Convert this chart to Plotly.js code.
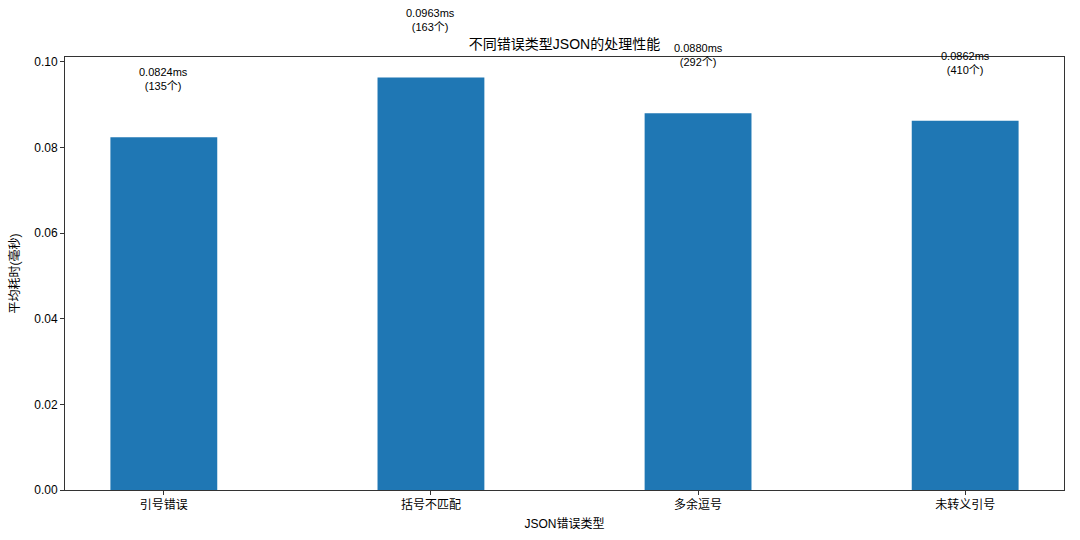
<!DOCTYPE html>
<html>
<head>
<meta charset="utf-8">
<script src="https://cdn.plot.ly/plotly-3.0.1.min.js"></script>
<style>
  html, body { margin: 0; padding: 0; background: #fff; }
  #chart { width: 1080px; height: 540px; }
</style>
</head>
<body>
<div id="chart"></div>
<script>
var categories = ['引号错误', '括号不匹配', '多余逗号', '未转义引号'];
var avgTimes = [0.0824, 0.0963, 0.0880, 0.0862];
var counts = [135, 163, 292, 410];
var yTicks = [0, 0.02, 0.04, 0.06, 0.08, 0.10];

var FONT = 'Liberation Sans, Arial, Noto Sans CJK SC, sans-serif';
var labelOffset = 0.01;
var yMax = Math.max.apply(null, avgTimes) * 1.05;

var xs = categories.map(function (c, i) { return i; });

var bars = {
    type: 'bar',
    x: xs,
    y: avgTimes,
    width: 0.4,
    marker: {color: '#1f77b4', line: {width: 0}},
    hoverinfo: 'skip'
};

// value labels sit above the plot area for the tallest bar, so anchor them
// to the y domain (which is not hidden when off-range)
var annotations = avgTimes.map(function (v, i) {
    return {
        x: i, xref: 'x',
        y: (v + labelOffset) / yMax, yref: 'y domain',
        yanchor: 'bottom', xanchor: 'center',
        text: v.toFixed(4) + 'ms<br>(' + counts[i] + '个)',
        showarrow: false,
        font: {family: FONT, size: 11, color: '#000'}
    };
});

var layout = {
    width: 1080,
    height: 540,
    margin: {l: 65, r: 16, t: 57, b: 50},
    paper_bgcolor: '#fff',
    plot_bgcolor: '#fff',
    showlegend: false,
    font: {family: FONT, size: 12, color: '#000'},
    title: {
        text: '不同错误类型JSON的处理性能',
        font: {family: FONT, size: 14, color: '#000'},
        x: 0.5, xref: 'paper',
        y: 1 - 44 / 540, yref: 'container', yanchor: 'middle'
    },
    annotations: annotations,
    xaxis: {
        range: [-0.37, 3.37],
        tickvals: xs,
        ticktext: categories,
        ticks: 'outside', ticklen: 4, tickcolor: '#333',
        showline: true, mirror: true, linecolor: '#333', linewidth: 1,
        showgrid: false, zeroline: false,
        tickfont: {size: 12},
        title: {text: 'JSON错误类型', font: {size: 12}, standoff: 8}
    },
    yaxis: {
        range: [0, yMax],
        tickvals: yTicks,
        tickformat: '.2f',
        ticks: 'outside', ticklen: 4, tickcolor: '#333',
        showline: true, mirror: true, linecolor: '#333', linewidth: 1,
        showgrid: false, zeroline: false,
        tickfont: {size: 12},
        title: {text: '平均耗时(毫秒)', font: {size: 12}, standoff: 12}
    }
};

Plotly.newPlot('chart', [bars], layout, {staticPlot: true});
</script>
</body>
</html>
